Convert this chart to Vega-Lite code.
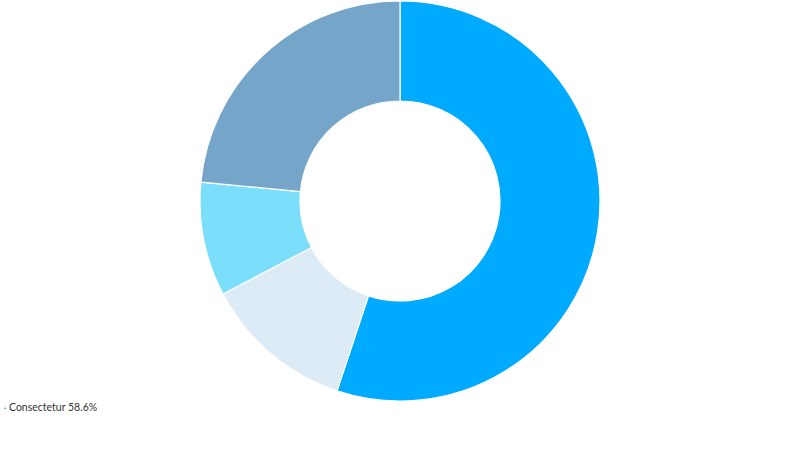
{
  "$schema": "https://vega.github.io/schema/vega-lite/v6.json",
  "width": 800,
  "height": 400,
  "padding": {"top": -2, "left": 0, "right": 0, "bottom": 0},
  "background": "white",
  "data": {
    "values": [
      {"name": "Consectetur", "legend": "Consectetur 58.6%", "value": 55.1, "rank": 1},
      {"name": "Lorem", "legend": "Lorem 12.2%", "value": 12.2, "rank": 2},
      {"name": "Ipsum", "legend": "Ipsum 9.2%", "value": 9.2, "rank": 3},
      {"name": "Dolor", "legend": "Dolor 23.5%", "value": 23.5, "rank": 4}
    ]
  },
  "mark": {"type": "arc", "outerRadius": 200, "innerRadius": 100, "stroke": "white", "strokeWidth": 1.2},
  "encoding": {
    "theta": {"field": "value", "type": "quantitative", "stack": true},
    "order": {"field": "rank", "type": "quantitative"},
    "color": {
      "field": "legend",
      "type": "nominal",
      "scale": {
        "domain": ["Consectetur 58.6%", "Lorem 12.2%", "Ipsum 9.2%", "Dolor 23.5%"],
        "range": ["#00abff", "#ddebf7", "#7bdffc", "#75a6ca"]
      },
      "legend": {
        "title": null,
        "orient": "none",
        "legendX": 0,
        "legendY": 402,
        "values": ["Consectetur 58.6%"],
        "symbolType": "circle",
        "symbolSize": 10,
        "symbolOffset": 0,
        "labelOffset": -1.5,
        "labelFont": "Lato",
        "labelFontSize": 10.5,
        "labelColor": "#333333",
        "padding": 0,
        "encode": {
          "symbols": {"update": {"fill": {"value": "#333333"}, "stroke": {"value": "transparent"}}}
        }
      }
    },
    "tooltip": [
      {"field": "name", "type": "nominal"},
      {"field": "value", "type": "quantitative"}
    ]
  },
  "config": {"view": {"stroke": null}}
}
